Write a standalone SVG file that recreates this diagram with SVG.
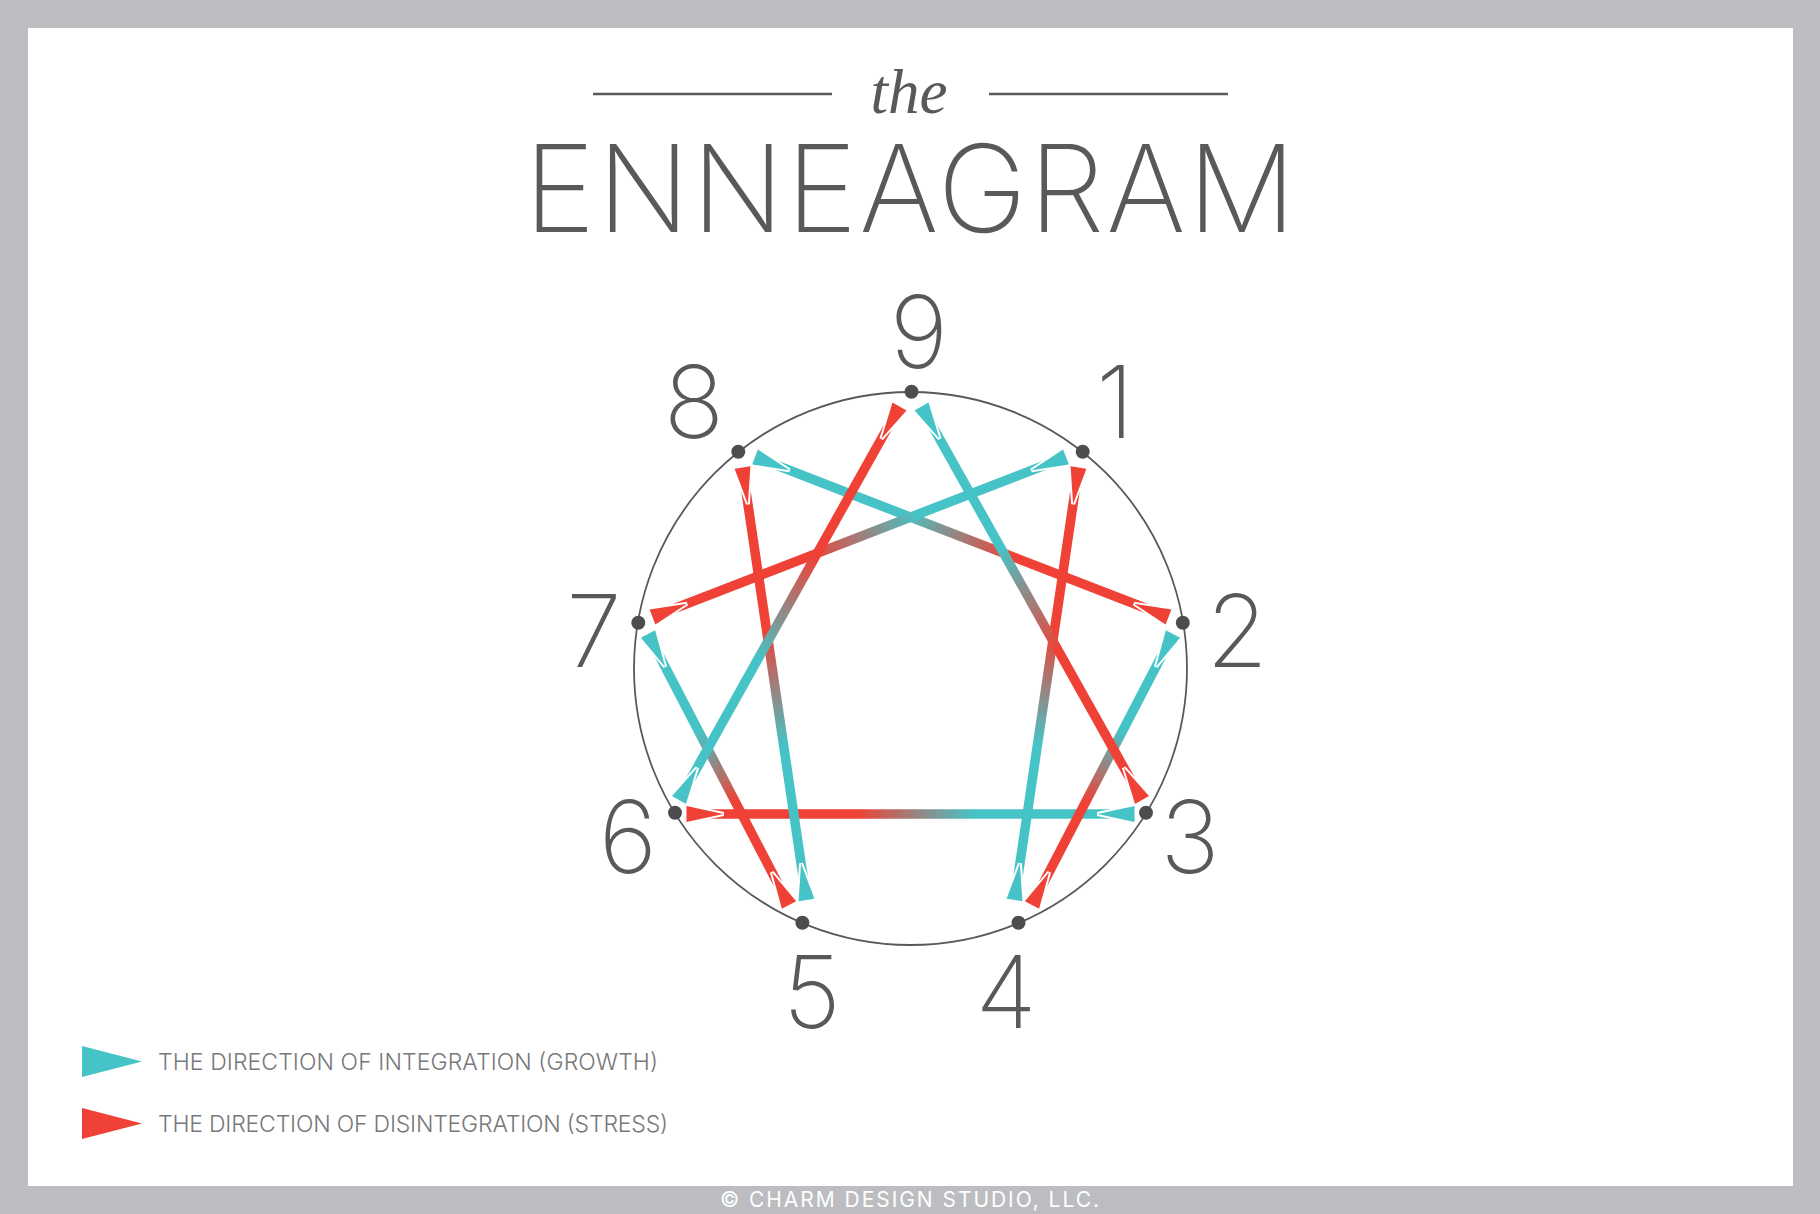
<svg xmlns="http://www.w3.org/2000/svg" width="1820" height="1214" viewBox="0 0 1820 1214">
<style>
.num{font-family:Inter,Lato,"Liberation Sans",sans-serif;font-weight:200;font-size:100px;fill:#58595B;text-anchor:middle}
.dot{fill:#4D4D4F}
.ln{stroke-width:9.5;fill:none}
.r{fill:#EF4136;stroke:#fff;stroke-width:4;paint-order:stroke;stroke-linejoin:miter}
.t{fill:#46C3C6;stroke:#fff;stroke-width:4;paint-order:stroke;stroke-linejoin:miter}
.leg{font-family:Inter,Lato,"Liberation Sans",sans-serif;font-weight:300;font-size:23px;fill:#77787B}
</style>
<defs>
<linearGradient id="base">
<stop offset="0" stop-color="#EF4136"/>
<stop offset="0.38" stop-color="#EF4136"/>
<stop offset="0.64" stop-color="#46C3C6"/>
<stop offset="1" stop-color="#46C3C6"/>
</linearGradient>
<linearGradient id="g96" href="#base" gradientUnits="userSpaceOnUse" x1="899.5" y1="406.5" x2="679" y2="800"/>
<linearGradient id="g93" href="#base" gradientUnits="userSpaceOnUse" x1="1142" y1="800" x2="921.5" y2="406.5"/>
<linearGradient id="g63" href="#base" gradientUnits="userSpaceOnUse" x1="686.5" y1="814" x2="1134.5" y2="814"/>
<linearGradient id="g82" href="#base" gradientUnits="userSpaceOnUse" x1="1168.5" y1="617" x2="755" y2="457"/>
<linearGradient id="g17" href="#base" gradientUnits="userSpaceOnUse" x1="652.5" y1="617" x2="1066" y2="457"/>
<linearGradient id="g85" href="#base" gradientUnits="userSpaceOnUse" x1="742.5" y1="467.5" x2="806.5" y2="900"/>
<linearGradient id="g14" href="#base" gradientUnits="userSpaceOnUse" x1="1078.5" y1="467.5" x2="1014.5" y2="900"/>
<linearGradient id="g75" href="#base" gradientUnits="userSpaceOnUse" x1="789" y1="905" x2="648" y2="634"/>
<linearGradient id="g24" href="#base" gradientUnits="userSpaceOnUse" x1="1032" y1="905" x2="1173" y2="634"/>
<polygon id="ah" points="0,-8 0,8 37,0"/>
</defs>
<rect x="0" y="0" width="1820" height="1214" fill="#BCBDC0"/>
<rect x="28" y="28" width="1765" height="1158" fill="#FFFFFF"/>
<text x="720" y="1207" font-family="Inter,Lato,'Liberation Sans',sans-serif" font-size="21" fill="#FFFFFF" textLength="379" lengthAdjust="spacing">© CHARM DESIGN STUDIO, LLC.</text>
<g id="title">
<line x1="593" y1="94" x2="832" y2="94" stroke="#58595B" stroke-width="2.5"/>
<line x1="989" y1="94" x2="1228" y2="94" stroke="#58595B" stroke-width="2.5"/>
<text x="909" y="113" font-family="'Liberation Serif',serif" font-style="italic" font-size="63" fill="#58595B" text-anchor="middle">the</text>
<text x="524" y="232" font-family="Inter,Lato,'Liberation Sans',sans-serif" font-weight="200" font-size="121" fill="#58595B" textLength="772" lengthAdjust="spacing">ENNEAGRAM</text>
</g>
<circle cx="910.5" cy="668.5" r="276.5" fill="none" stroke="#58595B" stroke-width="1.8"/>
<g id="connectors">
<line class="ln" x1="686.5" y1="814" x2="1134.5" y2="814" stroke="url(#g63)"/>
<line class="ln" x1="742.5" y1="467.5" x2="806.5" y2="900" stroke="url(#g85)"/>
<line class="ln" x1="1078.5" y1="467.5" x2="1014.5" y2="900" stroke="url(#g14)"/>
<line class="ln" x1="648" y1="634" x2="789" y2="905" stroke="url(#g75)"/>
<line class="ln" x1="1173" y1="634" x2="1032" y2="905" stroke="url(#g24)"/>
<line class="ln" x1="755" y1="457" x2="1168.5" y2="617" stroke="url(#g82)"/>
<line class="ln" x1="1066" y1="457" x2="652.5" y2="617" stroke="url(#g17)"/>
<line class="ln" x1="899.5" y1="406.5" x2="679" y2="800" stroke="url(#g96)"/>
<line class="ln" x1="921.5" y1="406.5" x2="1142" y2="800" stroke="url(#g93)"/>
<use href="#ah" class="r" transform="translate(899.5,406.5) rotate(119.26)"/>
<use href="#ah" class="t" transform="translate(679,800) rotate(-60.74)"/>
<use href="#ah" class="t" transform="translate(921.5,406.5) rotate(60.74)"/>
<use href="#ah" class="r" transform="translate(1142,800) rotate(-119.26)"/>
<use href="#ah" class="r" transform="translate(686.5,814) rotate(0)"/>
<use href="#ah" class="t" transform="translate(1134.5,814) rotate(180)"/>
<use href="#ah" class="t" transform="translate(755,457) rotate(21.15)"/>
<use href="#ah" class="r" transform="translate(1168.5,617) rotate(201.15)"/>
<use href="#ah" class="t" transform="translate(1066,457) rotate(158.85)"/>
<use href="#ah" class="r" transform="translate(652.5,617) rotate(-21.15)"/>
<use href="#ah" class="r" transform="translate(742.5,467.5) rotate(81.58)"/>
<use href="#ah" class="t" transform="translate(806.5,900) rotate(-98.42)"/>
<use href="#ah" class="r" transform="translate(1078.5,467.5) rotate(98.42)"/>
<use href="#ah" class="t" transform="translate(1014.5,900) rotate(-81.58)"/>
<use href="#ah" class="t" transform="translate(648,634) rotate(62.51)"/>
<use href="#ah" class="r" transform="translate(789,905) rotate(-117.49)"/>
<use href="#ah" class="t" transform="translate(1173,634) rotate(117.49)"/>
<use href="#ah" class="r" transform="translate(1032,905) rotate(-62.51)"/>
</g>
<g id="node9"><circle class="dot" cx="911.5" cy="391.7" r="7"/><text class="num" x="919" y="368">9</text></g>
<g id="node1"><circle class="dot" cx="1082.7" cy="451.7" r="7"/><text class="num" x="1115" y="438">1</text></g>
<g id="node2"><circle class="dot" cx="1182.8" cy="622.7" r="7"/><text class="num" x="1237" y="667">2</text></g>
<g id="node3"><circle class="dot" cx="1146" cy="812.8" r="7"/><text class="num" x="1190" y="873">3</text></g>
<g id="node4"><circle class="dot" cx="1018.5" cy="922.7" r="7"/><text class="num" x="1006" y="1028">4</text></g>
<g id="node5"><circle class="dot" cx="802.4" cy="922.7" r="7"/><text class="num" x="812" y="1028">5</text></g>
<g id="node6"><circle class="dot" cx="675" cy="812.8" r="7"/><text class="num" x="628" y="873">6</text></g>
<g id="node7"><circle class="dot" cx="638.3" cy="622.7" r="7"/><text class="num" x="594" y="667">7</text></g>
<g id="node8"><circle class="dot" cx="738.3" cy="451.7" r="7"/><text class="num" x="694" y="438">8</text></g>
<g id="legend">
<polygon points="82,1046 82,1077 142,1061.5" fill="#46C3C6"/>
<text class="leg" x="158" y="1070" textLength="500" lengthAdjust="spacing">THE DIRECTION OF INTEGRATION (GROWTH)</text>
<polygon points="82,1108 82,1139 142,1123.5" fill="#EF4136"/>
<text class="leg" x="158" y="1131.7" textLength="510" lengthAdjust="spacing">THE DIRECTION OF DISINTEGRATION (STRESS)</text>
</g>
</svg>
